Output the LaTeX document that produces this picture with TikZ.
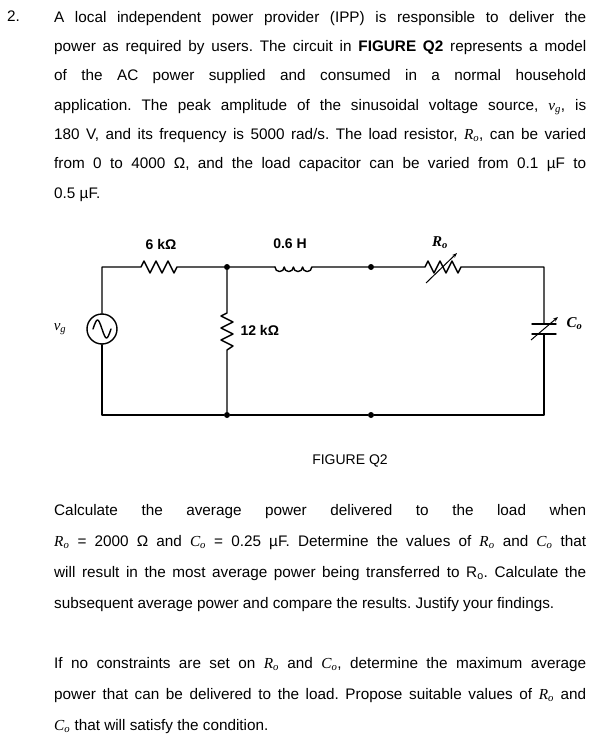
\documentclass[tikz,border=0pt]{standalone}
\usepackage{fontspec}
\setmainfont{Liberation Sans}
\newfontfamily\tms{Liberation Serif}
\usetikzlibrary{arrows.meta}
\newcommand\vv[2]{{\tms\itshape #1}\textsubscript{\tms\itshape #2}}
\begin{document}
\frenchspacing
\begin{tikzpicture}[x=1pt,y=-1pt,
  wire/.style={line width=1.4pt,line cap=round,line join=round},
  dot/.style={circle,fill,inner sep=0pt,minimum size=6pt},
  para/.style={anchor=north west,inner sep=0pt,text width=532pt,align=justify,
    font=\frenchspacing\fontsize{15.3}{29.3}\selectfont},
  lbl/.style={font=\fontsize{14}{15}\selectfont\bfseries}]
\useasboundingbox[fill=white] (0,0) rectangle (607,754);
\node[anchor=north west,inner sep=0pt,font=\fontsize{15.3}{16}\selectfont] (num) at (7,11) {2.};
\node[para] (p1) at (54,11) {A local independent power provider (IPP) is responsible to deliver the\linebreak
power as required by users. The circuit in \textbf{FIGURE Q2} represents a model\linebreak
of the AC power supplied and consumed in a normal household\linebreak
application. The peak amplitude of the sinusoidal voltage source, \vv{v}{g}, is\linebreak
180 V, and its frequency is 5000 rad/s. The load resistor, \vv{R}{o}, can be varied\linebreak
from 0 to 4000 Ω, and the load capacitor can be varied from 0.1 µF to\linebreak
0.5 µF.};
\node[para,font=\frenchspacing\fontsize{15.3}{31}\selectfont] (p2) at (54,504) {Calculate the average power delivered to the load when\linebreak
\vv{R}{o} = 2000 Ω and \vv{C}{o} = 0.25 µF. Determine the values of \vv{R}{o} and \vv{C}{o} that\linebreak
will result in the most average power being transferred to R\textsubscript{o}. Calculate the\linebreak
subsequent average power and compare the results. Justify your findings.};
\node[para,font=\frenchspacing\fontsize{15.3}{31}\selectfont] (p3) at (54,657) {If no constraints are set on \vv{R}{o} and \vv{C}{o}, determine the maximum average\linebreak
power that can be delivered to the load. Propose suitable values of \vv{R}{o} and\linebreak
\vv{C}{o} that will satisfy the condition.};
\node[font=\fontsize{14}{15}\selectfont] (cap) at (350,461) {FIGURE Q2};
% coordinates
\coordinate (tl) at (102,267); \coordinate (bl) at (102,415);
\coordinate (tr) at (544,267); \coordinate (br) at (544,415);
\node[dot] (j1) at (227,267) {}; \node[dot] (j2) at (371,267) {};
\node[dot] (j3) at (227,415) {}; \node[dot] (j4) at (371,415) {};
\node[circle,draw,line width=1.4pt,minimum size=30pt,inner sep=0pt] (src) at (102,329) {};
\draw[wire] (src.center)+(-9,0) .. controls +(4,-12) and +(-4,-12) .. +(0,0)
  .. controls +(4,12) and +(-4,12) .. +(9,0);
% left branch
\draw[wire] (src.north) -- (tl) -- (141,267) -- (144,261) -- (150,273) -- (156,261) -- (162,273) -- (168,261) -- (174,273) -- (177,267) -- (j1) -- (275,267);
\draw[wire] (275,267) arc[start angle=180,end angle=0,radius=4.6] arc[start angle=180,end angle=0,radius=4.6] arc[start angle=180,end angle=0,radius=4.6] arc[start angle=180,end angle=0,radius=4.6] -- (j2) -- (425,267)
  -- (428,261) -- (434,273) -- (440,261) -- (446,273) -- (452,261) -- (458,273) -- (461,267) -- (tr) -- (544,324);
\draw[wire] (src.south) -- (bl) -- (j3) -- (j4) -- (br) -- (544,334);
\draw[wire] (j1) -- (227,313) -- (221,316) -- (233,322) -- (221,328) -- (233,334) -- (221,340) -- (233,346) -- (227,350) -- (j3);
% capacitor
\draw[wire] (532,324) -- (556,324); \draw[wire] (532,334) -- (556,334);
\draw[line width=1pt,-{Stealth[length=5pt]}] (531,340) -- (558,317);
\draw[line width=1pt,-{Stealth[length=5pt]}] (426,283) -- (457,253);
% labels
\node[lbl] (l6k) at (161,244) {6 kΩ};
\node[lbl] (lL) at (290,244) {0.6 H};
\node[font=\fontsize{15}{15}\selectfont\bfseries] (lR) at (440,243) {\vv{R}{o}};
\node[lbl,anchor=west] (l12) at (237,330) {12 kΩ};
\node[font=\fontsize{15}{15}\selectfont\bfseries,anchor=west] (lC) at (563,324) {\vv{C}{o}};
\node[font=\fontsize{15}{15}\selectfont] (lv) at (60,329) {\vv{v}{g}};
\end{tikzpicture}
\end{document}
